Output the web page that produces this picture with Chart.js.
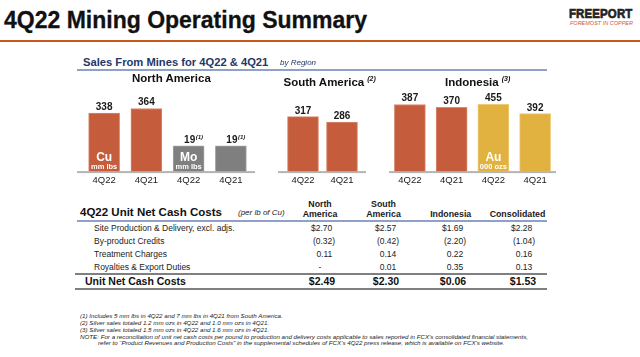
<!DOCTYPE html>
<html><head><meta charset="utf-8">
<script src="https://cdn.jsdelivr.net/npm/chart.js@4"></script>
<style>
html,body{margin:0;padding:0}
body{width:640px;height:357px;position:relative;background:#fff;font-family:'Liberation Sans',Arial,sans-serif;overflow:hidden;color:#1a1a1a}
.a{position:absolute;white-space:nowrap}
canvas{position:absolute}
.sup{font-style:italic;font-size:7px;vertical-align:5px;font-weight:bold;margin-left:3px}
</style></head><body>
<canvas id="na" width="178" height="105" style="left:77px;top:84px"></canvas>
<canvas id="sa" width="88" height="105" style="left:278px;top:84px"></canvas>
<canvas id="id" width="167" height="105" style="left:389px;top:84px"></canvas>
<script>
// ---------- data ----------
const periods = ['4Q22', '4Q21'];
const naCu = [338, 364];
const naMo = [19, 19];
const saCu = [317, 286];
const idCu = [387, 370];
const idAu = [455, 392];
const moNote = '(1)';

const costItems = ['Site Production & Delivery, excl. adjs.', 'By-product Credits', 'Treatment Charges', 'Royalties & Export Duties'];
const costCols = ['North America', 'South America', 'Indonesia', 'Consolidated'];
const naCost = ['$2.70', '(0.32)', '0.11', '-'];
const saCost = ['$2.57', '(0.42)', '0.14', '0.01'];
const idCost = ['$1.69', '(2.20)', '0.22', '0.35'];
const conCost = ['$2.28', '(1.04)', '0.16', '0.13'];
const totals = ['$2.49', '$2.30', '$0.06', '$1.53'];

const footnotes = [
  '(1) Includes 5 mm lbs in 4Q22 and 7 mm lbs in 4Q21 from South America.',
  '(2) Silver sales totaled 1.2 mm ozs in 4Q22 and 1.0 mm ozs in 4Q21.',
  '(3) Silver sales totaled 1.5 mm ozs in 4Q22 and 1.6 mm ozs in 4Q21.',
  'NOTE: For a reconciliation of unit net cash costs per pound to production and delivery costs applicable to sales reported in FCX\u2019s consolidated financial statements,',
  'refer to \u201cProduct Revenues and Production Costs\u201d in the supplemental schedules of FCX\u2019s 4Q22 press release, which is available on FCX\u2019s website.'
];

// ---------- styling ----------
const FONT = "'Liberation Sans', Arial, sans-serif";
const CU = '#C55C3B', CU_B = '#D8896E';
const MO = '#7F7F7F', MO_B = '#A3A3A3';
const AU = '#E2B240', AU_B = '#EEC978';

// ---------- text helper ----------
function put(text, x, base, fs, css, align) {
  const d = document.createElement('div');
  d.className = 'a';
  d.textContent = text;
  d.style.fontSize = fs + 'px';
  d.style.lineHeight = fs + 'px';
  d.style.top = (base - 0.8465 * fs) + 'px';
  if (align === 'center') { d.style.left = x + 'px'; d.style.transform = 'translateX(-50%)'; }
  else if (align === 'right') { d.style.right = (640 - x) + 'px'; }
  else d.style.left = x + 'px';
  Object.assign(d.style, css || {});
  document.body.appendChild(d);
  return d;
}
function rect(x, y, w, h, c) {
  const d = document.createElement('div');
  d.className = 'a';
  Object.assign(d.style, {left: x + 'px', top: y + 'px', width: w + 'px', height: h + 'px', background: c});
  document.body.appendChild(d);
}

// header
put('4Q22 Mining Operating Summary', 4, 28.3, 23, {fontWeight: 'bold', color: '#111', webkitTextStroke: '0.3px #111'});
put('FREEPORT', 569, 18.3, 11.5, {fontWeight: 'bold', color: '#222', letterSpacing: '0.1px', transform: 'scaleY(1.12)', webkitTextStroke: '0.6px #222'});
put('FOREMOST IN COPPER', 570, 26, 5.5, {fontStyle: 'italic', color: '#D2553A'});
rect(0, 40, 640, 2, '#C9581F');

put('Sales From Mines for 4Q22 & 4Q21', 83, 66, 11.2, {fontWeight: 'bold', color: '#1F3864'});
put('by Region', 280, 66, 8, {fontStyle: 'italic', color: '#1F3864'});
rect(77, 69, 470, 1.5, '#8EA1C7');

// region headings
(function () {
  const h = [['North America', 132, ''], ['South America', 283.5, '(2)'], ['Indonesia', 445, '(3)']];
  h.forEach(([t, x, n]) => {
    const d = put(t, x, 82.3, 11.5, {fontWeight: 'bold', color: '#111'});
    if (n) { const s = document.createElement('span'); s.className = 'sup'; s.textContent = n; d.appendChild(s); }
  });
})();

// ---------- charts ----------
const barText = {
  id: 'barText',
  afterDatasetsDraw(chart) {
    const ctx = chart.ctx;
    const bottom = chart.chartArea.bottom;
    chart.data.datasets.forEach((ds, di) => {
      const meta = chart.getDatasetMeta(di);
      meta.data.forEach((bar, i) => {
        const v = ds.data[i];
        if (v === null || v === undefined) return;
        ctx.save();
        ctx.fillStyle = '#1a1a1a';
        ctx.textBaseline = 'alphabetic';
        ctx.font = 'bold 10px ' + FONT;
        if (ds.note) {
          const w = ctx.measureText(String(v)).width;
          ctx.textAlign = 'center';
          ctx.fillText(String(v), bar.x + 1, bar.y - 3);
          ctx.font = 'italic bold 6px ' + FONT;
          ctx.textAlign = 'left';
          ctx.fillText(ds.note, bar.x + 1 + w / 2 + 0.5, bar.y - 7);
        } else {
          ctx.textAlign = 'center';
          ctx.fillText(String(v), bar.x, bar.y - 3);
        }
        if (ds.inner && i === ds.inner.index) {
          ctx.fillStyle = '#fff';
          ctx.textAlign = 'center';
          ctx.font = 'bold 12px ' + FONT;
          ctx.fillText(ds.inner.big, bar.x, bottom - 10.5);
          ctx.font = 'bold 7.5px ' + FONT;
          ctx.fillText(ds.inner.small, bar.x, bottom - 2.3);
        }
        ctx.restore();
      });
    });
  }
};
const baseLine = {
  id: 'baseLine',
  beforeDatasetsDraw(chart) {
    const ctx = chart.ctx;
    ctx.save();
    ctx.fillStyle = '#B4B4B4';
    ctx.fillRect(0, chart.chartArea.bottom - 0.5, chart.width, 2);
    ctx.restore();
  }
};

function makeChart(id, labels, datasets, pad, axes) {
  const scales = {
    x: {
      grid: {display: false, drawTicks: false},
      border: {display: false},
      ticks: {color: '#1a1a1a', font: {family: FONT, size: 9.5}, padding: 3, autoSkip: false, maxRotation: 0}
    }
  };
  Object.keys(axes).forEach(k => { scales[k] = {display: false, min: 0, max: axes[k]}; });
  return new Chart(document.getElementById(id), {
    type: 'bar',
    data: {labels, datasets},
    options: {
      responsive: false, animation: false, devicePixelRatio: 1,
      layout: {padding: {left: pad[0], right: pad[1], top: 0, bottom: 0}},
      plugins: {legend: {display: false}, tooltip: {enabled: false}},
      scales
    },
    plugins: [baseLine, barText]
  });
}
const CU_MAX = 505, MO_MAX = 64.7, AU_MAX = 592;
function ds(data, color, border, axis, extra) {
  return Object.assign({data, backgroundColor: color, borderColor: border, borderWidth: 1, barThickness: 31, grouped: false, yAxisID: axis}, extra || {});
}
makeChart('na', [...periods, ...periods], [
  ds([...naCu, null, null], CU, CU_B, 'y', {inner: {index: 0, big: 'Cu', small: 'mm lbs'}}),
  ds([null, null, ...naMo], MO, MO_B, 'yMo', {note: moNote, inner: {index: 2, big: 'Mo', small: 'mm lbs'}})
], [6, 3], {y: CU_MAX, yMo: MO_MAX});
makeChart('sa', periods, [ds(saCu, CU, CU_B, 'y')], [5.5, 4.5], {y: CU_MAX});
makeChart('id', [...periods, ...periods], [
  ds([...idCu, null, null], CU, CU_B, 'y'),
  ds([null, null, ...idAu], AU, AU_B, 'yAu', {inner: {index: 2, big: 'Au', small: '000 ozs'}})
], [0, 0], {y: CU_MAX, yAu: AU_MAX});

// ---------- cost table ----------
put('4Q22 Unit Net Cash Costs', 80, 217, 11.5, {fontWeight: 'bold', color: '#111'});
put('(per lb of Cu)', 238, 216, 8, {fontStyle: 'italic'});
const colCenters = [320, 383.5, 450.7, 517.5];
const colRights = [332.3, 396.3, 463.3, 532.3];
costCols.forEach((c, i) => {
  const parts = c.split(' ');
  if (parts.length === 2) {
    put(parts[0], colCenters[i], 207, 8.8, {fontWeight: 'bold'}, 'center');
    put(parts[1], colCenters[i], 217, 8.8, {fontWeight: 'bold'}, 'center');
  } else {
    put(c, colCenters[i], 217, 8.8, {fontWeight: 'bold'}, 'center');
  }
});
rect(77, 220, 470, 1.5, '#8EA1C7');
const rowBase = [231.3, 244, 257, 269.7];
const cols = [naCost, saCost, idCost, conCost];
costItems.forEach((t, r) => {
  put(t, 94, rowBase[r], 8.5, {color: '#222'});
  cols.forEach((col, c) => {
    const v = col[r];
    if (v === '-') put(v, colCenters[c], rowBase[r], 8.5, {color: '#222'}, 'center');
    else if (v.endsWith(')')) put(v, colRights[c] + 2.8, rowBase[r], 8.5, {color: '#222'}, 'right');
    else put(v, colRights[c], rowBase[r], 8.5, {color: '#222'}, 'right');
  });
});
rect(75, 273, 472, 2, '#7F7F7F');
put('Unit Net Cash Costs', 85, 285.3, 10.5, {fontWeight: 'bold', color: '#111'});
const totCenters = [322, 386, 453, 523];
totals.forEach((t, i) => put(t, totCenters[i], 285.3, 10.5, {fontWeight: 'bold', color: '#111'}, 'center'));
rect(75, 288, 472, 2, '#7F7F7F');

// ---------- footnotes ----------
const fnBase = [318, 325, 332, 339, 345.5];
footnotes.forEach((f, i) => put(f, i === 4 ? 98 : 80, fnBase[i], 6.2, {fontStyle: 'italic', color: '#1a1a1a'}));
</script>
</body></html>
